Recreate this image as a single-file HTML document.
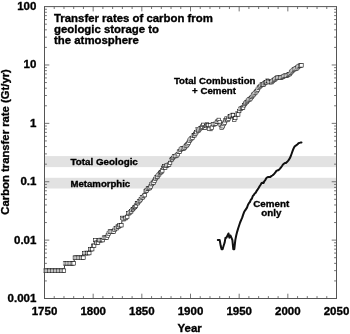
<!DOCTYPE html><html><head><meta charset="utf-8"><style>html,body{margin:0;padding:0;background:#fff}</style></head><body><svg width="350" height="334" viewBox="0 0 350 334" style="display:block"><rect width="350" height="334" fill="#fff"/><rect x="44.5" y="156.1" width="292.0" height="11" fill="#e2e2e2"/><rect x="44.5" y="177.8" width="292.0" height="10.7" fill="#e2e2e2"/><path d="M44.5 298.50h4.8M336.5 298.50h-4.8M44.5 280.93h2.4M336.5 280.93h-2.4M44.5 270.65h2.4M336.5 270.65h-2.4M44.5 263.35h2.4M336.5 263.35h-2.4M44.5 257.69h2.4M336.5 257.69h-2.4M44.5 253.07h2.4M336.5 253.07h-2.4M44.5 249.16h2.4M336.5 249.16h-2.4M44.5 245.78h2.4M336.5 245.78h-2.4M44.5 242.79h2.4M336.5 242.79h-2.4M44.5 240.12h4.8M336.5 240.12h-4.8M44.5 222.55h2.4M336.5 222.55h-2.4M44.5 212.27h2.4M336.5 212.27h-2.4M44.5 204.97h2.4M336.5 204.97h-2.4M44.5 199.31h2.4M336.5 199.31h-2.4M44.5 194.69h2.4M336.5 194.69h-2.4M44.5 190.78h2.4M336.5 190.78h-2.4M44.5 187.40h2.4M336.5 187.40h-2.4M44.5 184.41h2.4M336.5 184.41h-2.4M44.5 181.74h4.8M336.5 181.74h-4.8M44.5 164.17h2.4M336.5 164.17h-2.4M44.5 153.89h2.4M336.5 153.89h-2.4M44.5 146.59h2.4M336.5 146.59h-2.4M44.5 140.93h2.4M336.5 140.93h-2.4M44.5 136.31h2.4M336.5 136.31h-2.4M44.5 132.40h2.4M336.5 132.40h-2.4M44.5 129.02h2.4M336.5 129.02h-2.4M44.5 126.03h2.4M336.5 126.03h-2.4M44.5 123.36h4.8M336.5 123.36h-4.8M44.5 105.79h2.4M336.5 105.79h-2.4M44.5 95.51h2.4M336.5 95.51h-2.4M44.5 88.21h2.4M336.5 88.21h-2.4M44.5 82.55h2.4M336.5 82.55h-2.4M44.5 77.93h2.4M336.5 77.93h-2.4M44.5 74.02h2.4M336.5 74.02h-2.4M44.5 70.64h2.4M336.5 70.64h-2.4M44.5 67.65h2.4M336.5 67.65h-2.4M44.5 64.98h4.8M336.5 64.98h-4.8M44.5 47.41h2.4M336.5 47.41h-2.4M44.5 37.13h2.4M336.5 37.13h-2.4M44.5 29.83h2.4M336.5 29.83h-2.4M44.5 24.17h2.4M336.5 24.17h-2.4M44.5 19.55h2.4M336.5 19.55h-2.4M44.5 15.64h2.4M336.5 15.64h-2.4M44.5 12.26h2.4M336.5 12.26h-2.4M44.5 9.27h2.4M336.5 9.27h-2.4M44.50 298.5v-4.8M44.50 6.6v4.8M54.23 298.5v-2.4M54.23 6.6v2.4M63.97 298.5v-2.4M63.97 6.6v2.4M73.70 298.5v-2.4M73.70 6.6v2.4M83.43 298.5v-2.4M83.43 6.6v2.4M93.17 298.5v-4.8M93.17 6.6v4.8M102.90 298.5v-2.4M102.90 6.6v2.4M112.63 298.5v-2.4M112.63 6.6v2.4M122.37 298.5v-2.4M122.37 6.6v2.4M132.10 298.5v-2.4M132.10 6.6v2.4M141.83 298.5v-4.8M141.83 6.6v4.8M151.57 298.5v-2.4M151.57 6.6v2.4M161.30 298.5v-2.4M161.30 6.6v2.4M171.03 298.5v-2.4M171.03 6.6v2.4M180.77 298.5v-2.4M180.77 6.6v2.4M190.50 298.5v-4.8M190.50 6.6v4.8M200.23 298.5v-2.4M200.23 6.6v2.4M209.97 298.5v-2.4M209.97 6.6v2.4M219.70 298.5v-2.4M219.70 6.6v2.4M229.43 298.5v-2.4M229.43 6.6v2.4M239.17 298.5v-4.8M239.17 6.6v4.8M248.90 298.5v-2.4M248.90 6.6v2.4M258.63 298.5v-2.4M258.63 6.6v2.4M268.37 298.5v-2.4M268.37 6.6v2.4M278.10 298.5v-2.4M278.10 6.6v2.4M287.83 298.5v-4.8M287.83 6.6v4.8M297.57 298.5v-2.4M297.57 6.6v2.4M307.30 298.5v-2.4M307.30 6.6v2.4M317.03 298.5v-2.4M317.03 6.6v2.4M326.77 298.5v-2.4M326.77 6.6v2.4M336.50 298.5v-4.8M336.50 6.6v4.8" stroke="#666" stroke-width="0.9" fill="none"/><rect x="44.5" y="6.6" width="292.0" height="291.9" fill="none" stroke="#555" stroke-width="1"/><path d="M45.5 270.6L46.4 270.6L47.4 270.6L48.4 270.6L49.4 270.6L50.3 270.6L51.3 270.6L52.3 270.6L53.3 270.6L54.2 270.6L55.2 270.6L56.2 270.6L57.2 270.6L58.1 270.6L59.1 270.6L60.1 270.6L61.0 270.6L62.0 270.6L63.0 270.6L64.0 270.6L64.9 263.4L65.9 263.4L66.9 263.4L67.9 263.4L68.8 263.4L69.8 263.4L70.8 263.4L71.8 263.4L72.7 263.4L73.7 263.4L74.7 257.7L75.6 257.7L76.6 257.7L77.6 257.7L78.6 257.7L79.5 257.7L80.5 257.7L81.5 257.7L82.5 257.7L83.4 257.7L84.4 253.1L85.4 253.1L86.4 253.1L87.3 253.1L88.3 253.1L89.3 253.1L90.2 249.2L91.2 249.2L92.2 249.2L93.2 245.8L94.1 245.8L95.1 240.1L96.1 242.8L97.1 242.8L98.0 242.8L99.0 240.1L100.0 240.1L101.0 240.1L101.9 240.1L102.9 240.1L103.9 237.7L104.8 237.7L105.8 237.7L106.8 237.7L107.8 235.5L108.7 233.5L109.7 231.6L110.7 231.6L111.7 231.6L112.6 231.6L113.6 231.6L114.6 229.8L115.6 228.2L116.5 228.2L117.5 226.7L118.5 226.7L119.4 225.2L120.4 225.2L121.4 225.2L122.4 217.9L123.3 219.0L124.3 219.0L125.3 217.9L126.3 217.9L127.2 216.9L128.2 213.1L129.2 213.1L130.2 212.3L131.1 211.4L132.1 209.8L133.1 209.1L134.0 207.6L135.0 206.9L136.0 205.6L137.0 203.1L137.9 203.1L138.9 201.4L139.9 200.9L140.9 199.3L141.8 197.4L142.8 197.4L143.8 196.0L144.8 195.1L145.7 191.1L146.7 190.4L147.7 188.7L148.6 188.4L149.6 188.0L150.6 186.5L151.6 184.1L152.5 183.0L153.5 182.5L154.5 180.7L155.5 178.9L156.4 177.3L157.4 176.7L158.4 175.1L159.4 174.1L160.3 172.8L161.3 172.0L162.3 170.5L163.2 167.8L164.2 166.3L165.2 167.7L166.2 165.7L167.1 165.3L168.1 164.9L169.1 164.7L170.1 162.9L171.0 160.0L172.0 159.2L173.0 157.9L174.0 156.4L174.9 156.1L175.9 155.9L176.9 155.5L177.8 154.3L178.8 151.7L179.8 151.7L180.8 149.5L181.7 148.4L182.7 148.3L183.7 148.6L184.7 147.7L185.6 146.2L186.6 145.4L187.6 144.2L188.6 142.8L189.5 140.6L190.5 139.3L191.5 138.4L192.4 137.8L193.4 135.6L194.4 135.3L195.4 133.8L196.3 132.2L197.3 129.5L198.3 130.7L199.3 129.5L200.2 128.4L201.2 127.9L202.2 126.6L203.2 124.8L204.1 127.5L205.1 127.8L206.1 126.0L207.0 124.5L208.0 125.0L209.0 128.8L210.0 125.1L210.9 128.9L211.9 127.6L212.9 124.1L213.9 124.3L214.8 124.0L215.8 123.8L216.8 121.8L217.8 121.8L218.7 119.9L219.7 122.1L220.7 124.9L221.6 127.6L222.6 126.2L223.6 124.1L224.6 122.7L225.5 120.3L226.5 118.5L227.5 120.0L228.5 118.9L229.4 116.7L230.4 116.1L231.4 115.9L232.4 115.0L233.3 115.1L234.3 119.6L235.3 117.9L236.2 115.0L237.2 113.6L238.2 114.5L239.2 111.0L240.1 108.9L241.1 108.5L242.1 107.9L243.1 107.6L244.0 105.3L245.0 103.6L246.0 102.6L247.0 101.9L247.9 100.6L248.9 99.4L249.9 99.3L250.8 98.3L251.8 97.0L252.8 95.5L253.8 94.4L254.7 93.2L255.7 92.4L256.7 91.1L257.7 89.6L258.6 87.9L259.6 86.9L260.6 85.9L261.6 84.6L262.5 84.5L263.5 84.7L264.5 83.3L265.4 82.5L266.4 82.2L267.4 80.8L268.4 81.1L269.3 81.9L270.3 82.1L271.3 82.2L272.3 81.3L273.2 80.5L274.2 79.8L275.2 79.1L276.2 78.2L277.1 77.7L278.1 77.6L279.1 77.3L280.0 77.6L281.0 77.6L282.0 77.2L283.0 76.7L283.9 76.1L284.9 75.7L285.9 75.6L286.9 75.7L287.8 75.0L288.8 74.4L289.8 74.0L290.8 72.7L291.7 71.5L292.7 70.5L293.7 69.6L294.6 69.1L295.6 68.3L296.6 68.5L297.6 67.3L298.5 66.3L299.5 65.8L300.5 65.6L301.5 65.4" stroke="#000" stroke-width="0.8" fill="none"/><g fill="#fff" stroke="#111" stroke-width="0.6"><rect x="43.72" y="268.90" width="3.5" height="3.5" stroke="#8a8a8a" stroke-width="0.5"/><path d="M43.72 268.90h3.5M43.72 272.40h3.5"/><rect x="44.70" y="268.90" width="3.5" height="3.5"/><rect x="45.67" y="268.90" width="3.5" height="3.5" stroke="#8a8a8a" stroke-width="0.5"/><path d="M45.67 268.90h3.5M45.67 272.40h3.5"/><rect x="46.64" y="268.90" width="3.5" height="3.5" stroke="#8a8a8a" stroke-width="0.5"/><path d="M46.64 268.90h3.5M46.64 272.40h3.5"/><rect x="47.62" y="268.90" width="3.5" height="3.5"/><rect x="48.59" y="268.90" width="3.5" height="3.5" stroke="#8a8a8a" stroke-width="0.5"/><path d="M48.59 268.90h3.5M48.59 272.40h3.5"/><rect x="49.56" y="268.90" width="3.5" height="3.5" stroke="#8a8a8a" stroke-width="0.5"/><path d="M49.56 268.90h3.5M49.56 272.40h3.5"/><rect x="50.54" y="268.90" width="3.5" height="3.5"/><rect x="51.51" y="268.90" width="3.5" height="3.5" stroke="#8a8a8a" stroke-width="0.5"/><path d="M51.51 268.90h3.5M51.51 272.40h3.5"/><rect x="52.48" y="268.90" width="3.5" height="3.5" stroke="#8a8a8a" stroke-width="0.5"/><path d="M52.48 268.90h3.5M52.48 272.40h3.5"/><rect x="53.46" y="268.90" width="3.5" height="3.5"/><rect x="54.43" y="268.90" width="3.5" height="3.5" stroke="#8a8a8a" stroke-width="0.5"/><path d="M54.43 268.90h3.5M54.43 272.40h3.5"/><rect x="55.40" y="268.90" width="3.5" height="3.5" stroke="#8a8a8a" stroke-width="0.5"/><path d="M55.40 268.90h3.5M55.40 272.40h3.5"/><rect x="56.38" y="268.90" width="3.5" height="3.5"/><rect x="57.35" y="268.90" width="3.5" height="3.5" stroke="#8a8a8a" stroke-width="0.5"/><path d="M57.35 268.90h3.5M57.35 272.40h3.5"/><rect x="58.32" y="268.90" width="3.5" height="3.5" stroke="#8a8a8a" stroke-width="0.5"/><path d="M58.32 268.90h3.5M58.32 272.40h3.5"/><rect x="59.30" y="268.90" width="3.5" height="3.5"/><rect x="60.27" y="268.90" width="3.5" height="3.5" stroke="#8a8a8a" stroke-width="0.5"/><path d="M60.27 268.90h3.5M60.27 272.40h3.5"/><rect x="61.24" y="268.90" width="3.5" height="3.5" stroke="#8a8a8a" stroke-width="0.5"/><path d="M61.24 268.90h3.5M61.24 272.40h3.5"/><rect x="62.22" y="268.90" width="3.5" height="3.5"/><rect x="63.19" y="261.60" width="3.5" height="3.5" stroke="#8a8a8a" stroke-width="0.5"/><path d="M63.19 261.60h3.5M63.19 265.10h3.5"/><rect x="64.16" y="261.60" width="3.5" height="3.5" stroke="#8a8a8a" stroke-width="0.5"/><path d="M64.16 261.60h3.5M64.16 265.10h3.5"/><rect x="65.14" y="261.60" width="3.5" height="3.5"/><rect x="66.11" y="261.60" width="3.5" height="3.5" stroke="#8a8a8a" stroke-width="0.5"/><path d="M66.11 261.60h3.5M66.11 265.10h3.5"/><rect x="67.08" y="261.60" width="3.5" height="3.5" stroke="#8a8a8a" stroke-width="0.5"/><path d="M67.08 261.60h3.5M67.08 265.10h3.5"/><rect x="68.06" y="261.60" width="3.5" height="3.5"/><rect x="69.03" y="261.60" width="3.5" height="3.5" stroke="#8a8a8a" stroke-width="0.5"/><path d="M69.03 261.60h3.5M69.03 265.10h3.5"/><rect x="70.00" y="261.60" width="3.5" height="3.5" stroke="#8a8a8a" stroke-width="0.5"/><path d="M70.00 261.60h3.5M70.00 265.10h3.5"/><rect x="70.98" y="261.60" width="3.5" height="3.5"/><rect x="71.95" y="261.60" width="3.5" height="3.5"/><rect x="72.92" y="255.94" width="3.5" height="3.5" stroke="#8a8a8a" stroke-width="0.5"/><path d="M72.92 255.94h3.5M72.92 259.44h3.5"/><rect x="73.90" y="255.94" width="3.5" height="3.5"/><rect x="74.87" y="255.94" width="3.5" height="3.5" stroke="#8a8a8a" stroke-width="0.5"/><path d="M74.87 255.94h3.5M74.87 259.44h3.5"/><rect x="75.84" y="255.94" width="3.5" height="3.5" stroke="#8a8a8a" stroke-width="0.5"/><path d="M75.84 255.94h3.5M75.84 259.44h3.5"/><rect x="76.82" y="255.94" width="3.5" height="3.5"/><rect x="77.79" y="255.94" width="3.5" height="3.5" stroke="#8a8a8a" stroke-width="0.5"/><path d="M77.79 255.94h3.5M77.79 259.44h3.5"/><rect x="78.76" y="255.94" width="3.5" height="3.5" stroke="#8a8a8a" stroke-width="0.5"/><path d="M78.76 255.94h3.5M78.76 259.44h3.5"/><rect x="79.74" y="255.94" width="3.5" height="3.5"/><rect x="80.71" y="255.94" width="3.5" height="3.5" stroke="#8a8a8a" stroke-width="0.5"/><path d="M80.71 255.94h3.5M80.71 259.44h3.5"/><rect x="81.68" y="255.94" width="3.5" height="3.5"/><rect x="82.66" y="251.32" width="3.5" height="3.5"/><rect x="83.63" y="251.32" width="3.5" height="3.5" stroke="#8a8a8a" stroke-width="0.5"/><path d="M83.63 251.32h3.5M83.63 254.82h3.5"/><rect x="84.60" y="251.32" width="3.5" height="3.5" stroke="#8a8a8a" stroke-width="0.5"/><path d="M84.60 251.32h3.5M84.60 254.82h3.5"/><rect x="85.58" y="251.32" width="3.5" height="3.5"/><rect x="86.55" y="251.32" width="3.5" height="3.5" stroke="#8a8a8a" stroke-width="0.5"/><path d="M86.55 251.32h3.5M86.55 254.82h3.5"/><rect x="87.52" y="251.32" width="3.5" height="3.5"/><rect x="88.50" y="247.41" width="3.5" height="3.5"/><rect x="89.47" y="247.41" width="3.5" height="3.5" stroke="#8a8a8a" stroke-width="0.5"/><path d="M89.47 247.41h3.5M89.47 250.91h3.5"/><rect x="90.44" y="247.41" width="3.5" height="3.5"/><rect x="91.42" y="244.03" width="3.5" height="3.5"/><rect x="92.39" y="244.03" width="3.5" height="3.5"/><rect x="93.36" y="238.37" width="3.5" height="3.5"/><rect x="94.34" y="241.04" width="3.5" height="3.5"/><rect x="95.31" y="241.04" width="3.5" height="3.5" stroke="#8a8a8a" stroke-width="0.5"/><path d="M95.31 241.04h3.5M95.31 244.54h3.5"/><rect x="96.28" y="241.04" width="3.5" height="3.5"/><rect x="97.26" y="238.37" width="3.5" height="3.5"/><rect x="98.23" y="238.37" width="3.5" height="3.5" stroke="#8a8a8a" stroke-width="0.5"/><path d="M98.23 238.37h3.5M98.23 241.87h3.5"/><rect x="99.20" y="238.37" width="3.5" height="3.5" stroke="#8a8a8a" stroke-width="0.5"/><path d="M99.20 238.37h3.5M99.20 241.87h3.5"/><rect x="100.18" y="238.37" width="3.5" height="3.5"/><rect x="101.15" y="238.37" width="3.5" height="3.5"/><rect x="102.12" y="235.95" width="3.5" height="3.5" stroke="#8a8a8a" stroke-width="0.5"/><path d="M102.12 235.95h3.5M102.12 239.45h3.5"/><rect x="103.10" y="235.95" width="3.5" height="3.5"/><rect x="104.07" y="235.95" width="3.5" height="3.5" stroke="#8a8a8a" stroke-width="0.5"/><path d="M104.07 235.95h3.5M104.07 239.45h3.5"/><rect x="105.04" y="235.95" width="3.5" height="3.5"/><rect x="106.02" y="233.75" width="3.5" height="3.5"/><rect x="106.99" y="231.72" width="3.5" height="3.5"/><rect x="107.96" y="229.84" width="3.5" height="3.5" stroke="#8a8a8a" stroke-width="0.5"/><path d="M107.96 229.84h3.5M107.96 233.34h3.5"/><rect x="108.94" y="229.84" width="3.5" height="3.5"/><rect x="109.91" y="229.84" width="3.5" height="3.5" stroke="#8a8a8a" stroke-width="0.5"/><path d="M109.91 229.84h3.5M109.91 233.34h3.5"/><rect x="110.88" y="229.84" width="3.5" height="3.5" stroke="#8a8a8a" stroke-width="0.5"/><path d="M110.88 229.84h3.5M110.88 233.34h3.5"/><rect x="111.86" y="229.84" width="3.5" height="3.5"/><rect x="112.83" y="228.09" width="3.5" height="3.5"/><rect x="113.80" y="226.45" width="3.5" height="3.5" stroke="#8a8a8a" stroke-width="0.5"/><path d="M113.80 226.45h3.5M113.80 229.95h3.5"/><rect x="114.78" y="226.45" width="3.5" height="3.5"/><rect x="115.75" y="224.92" width="3.5" height="3.5" stroke="#8a8a8a" stroke-width="0.5"/><path d="M115.75 224.92h3.5M115.75 228.42h3.5"/><rect x="116.72" y="224.92" width="3.5" height="3.5"/><rect x="117.70" y="223.47" width="3.5" height="3.5"/><rect x="118.67" y="223.47" width="3.5" height="3.5" stroke="#8a8a8a" stroke-width="0.5"/><path d="M118.67 223.47h3.5M118.67 226.97h3.5"/><rect x="119.64" y="223.47" width="3.5" height="3.5"/><rect x="120.62" y="216.17" width="3.5" height="3.5"/><rect x="121.59" y="217.25" width="3.5" height="3.5" stroke="#8a8a8a" stroke-width="0.5"/><path d="M121.59 217.25h3.5M121.59 220.75h3.5"/><rect x="122.56" y="217.25" width="3.5" height="3.5" stroke="#8a8a8a" stroke-width="0.5"/><path d="M122.56 217.25h3.5M122.56 220.75h3.5"/><rect x="123.54" y="216.17" width="3.5" height="3.5"/><rect x="124.51" y="216.17" width="3.5" height="3.5" stroke="#8a8a8a" stroke-width="0.5"/><path d="M124.51 216.17h3.5M124.51 219.67h3.5"/><rect x="125.48" y="215.14" width="3.5" height="3.5"/><rect x="126.46" y="211.38" width="3.5" height="3.5"/><rect x="127.43" y="211.38" width="3.5" height="3.5" stroke="#8a8a8a" stroke-width="0.5"/><path d="M127.43 211.38h3.5M127.43 214.88h3.5"/><rect x="128.40" y="210.52" width="3.5" height="3.5" stroke="#8a8a8a" stroke-width="0.5"/><path d="M128.40 210.52h3.5M128.40 214.02h3.5"/><rect x="129.38" y="209.68" width="3.5" height="3.5"/><rect x="130.35" y="208.10" width="3.5" height="3.5" stroke="#8a8a8a" stroke-width="0.5"/><path d="M130.35 208.10h3.5M130.35 211.60h3.5"/><rect x="131.32" y="207.34" width="3.5" height="3.5"/><rect x="132.30" y="205.89" width="3.5" height="3.5"/><rect x="133.27" y="205.20" width="3.5" height="3.5"/><rect x="134.24" y="203.86" width="3.5" height="3.5"/><rect x="135.22" y="201.39" width="3.5" height="3.5"/><rect x="136.19" y="201.39" width="3.5" height="3.5"/><rect x="137.16" y="199.68" width="3.5" height="3.5" stroke="#8a8a8a" stroke-width="0.5"/><path d="M137.16 199.68h3.5M137.16 203.18h3.5"/><rect x="138.14" y="199.13" width="3.5" height="3.5"/><rect x="139.11" y="197.56" width="3.5" height="3.5"/><rect x="140.08" y="195.61" width="3.5" height="3.5" stroke="#8a8a8a" stroke-width="0.5"/><path d="M140.08 195.61h3.5M140.08 199.11h3.5"/><rect x="141.06" y="195.61" width="3.5" height="3.5"/><rect x="142.03" y="194.24" width="3.5" height="3.5" stroke="#8a8a8a" stroke-width="0.5"/><path d="M142.03 194.24h3.5M142.03 197.74h3.5"/><rect x="143.00" y="193.37" width="3.5" height="3.5"/><rect x="143.98" y="189.40" width="3.5" height="3.5"/><rect x="144.95" y="188.67" width="3.5" height="3.5"/><rect x="145.92" y="186.95" width="3.5" height="3.5" stroke="#8a8a8a" stroke-width="0.5"/><path d="M145.92 186.95h3.5M145.92 190.45h3.5"/><rect x="146.90" y="186.62" width="3.5" height="3.5"/><rect x="147.87" y="186.29" width="3.5" height="3.5"/><rect x="148.84" y="184.71" width="3.5" height="3.5"/><rect x="149.82" y="182.38" width="3.5" height="3.5"/><rect x="150.79" y="181.29" width="3.5" height="3.5" stroke="#8a8a8a" stroke-width="0.5"/><path d="M150.79 181.29h3.5M150.79 184.79h3.5"/><rect x="151.76" y="180.76" width="3.5" height="3.5"/><rect x="152.74" y="179.00" width="3.5" height="3.5"/><rect x="153.71" y="177.12" width="3.5" height="3.5"/><rect x="154.68" y="175.58" width="3.5" height="3.5" stroke="#8a8a8a" stroke-width="0.5"/><path d="M154.68 175.58h3.5M154.68 179.08h3.5"/><rect x="155.66" y="174.95" width="3.5" height="3.5"/><rect x="156.63" y="173.34" width="3.5" height="3.5" stroke="#8a8a8a" stroke-width="0.5"/><path d="M156.63 173.34h3.5M156.63 176.84h3.5"/><rect x="157.60" y="172.38" width="3.5" height="3.5" stroke="#8a8a8a" stroke-width="0.5"/><path d="M157.60 172.38h3.5M157.60 175.88h3.5"/><rect x="158.58" y="171.10" width="3.5" height="3.5"/><rect x="159.55" y="170.22" width="3.5" height="3.5"/><rect x="160.52" y="168.72" width="3.5" height="3.5"/><rect x="161.50" y="166.09" width="3.5" height="3.5"/><rect x="162.47" y="164.53" width="3.5" height="3.5"/><rect x="163.44" y="165.95" width="3.5" height="3.5"/><rect x="164.42" y="163.98" width="3.5" height="3.5"/><rect x="165.39" y="163.58" width="3.5" height="3.5" stroke="#8a8a8a" stroke-width="0.5"/><path d="M165.39 163.58h3.5M165.39 167.08h3.5"/><rect x="166.36" y="163.19" width="3.5" height="3.5" stroke="#8a8a8a" stroke-width="0.5"/><path d="M166.36 163.19h3.5M166.36 166.69h3.5"/><rect x="167.34" y="162.93" width="3.5" height="3.5"/><rect x="168.31" y="161.18" width="3.5" height="3.5"/><rect x="169.28" y="158.22" width="3.5" height="3.5" stroke="#8a8a8a" stroke-width="0.5"/><path d="M169.28 158.22h3.5M169.28 161.72h3.5"/><rect x="170.26" y="157.48" width="3.5" height="3.5"/><rect x="171.23" y="156.16" width="3.5" height="3.5"/><rect x="172.20" y="154.62" width="3.5" height="3.5" stroke="#8a8a8a" stroke-width="0.5"/><path d="M172.20 154.62h3.5M172.20 158.12h3.5"/><rect x="173.18" y="154.34" width="3.5" height="3.5"/><rect x="174.15" y="154.16" width="3.5" height="3.5" stroke="#8a8a8a" stroke-width="0.5"/><path d="M174.15 154.16h3.5M174.15 157.66h3.5"/><rect x="175.12" y="153.79" width="3.5" height="3.5" stroke="#8a8a8a" stroke-width="0.5"/><path d="M175.12 153.79h3.5M175.12 157.29h3.5"/><rect x="176.10" y="152.56" width="3.5" height="3.5"/><rect x="177.07" y="149.95" width="3.5" height="3.5" stroke="#8a8a8a" stroke-width="0.5"/><path d="M177.07 149.95h3.5M177.07 153.45h3.5"/><rect x="178.04" y="149.95" width="3.5" height="3.5"/><rect x="179.02" y="147.80" width="3.5" height="3.5"/><rect x="179.99" y="146.68" width="3.5" height="3.5" stroke="#8a8a8a" stroke-width="0.5"/><path d="M179.99 146.68h3.5M179.99 150.18h3.5"/><rect x="180.96" y="146.55" width="3.5" height="3.5" stroke="#8a8a8a" stroke-width="0.5"/><path d="M180.96 146.55h3.5M180.96 150.05h3.5"/><rect x="181.94" y="146.82" width="3.5" height="3.5"/><rect x="182.91" y="145.94" width="3.5" height="3.5"/><rect x="183.88" y="144.46" width="3.5" height="3.5" stroke="#8a8a8a" stroke-width="0.5"/><path d="M183.88 144.46h3.5M183.88 147.96h3.5"/><rect x="184.86" y="143.67" width="3.5" height="3.5"/><rect x="185.83" y="142.43" width="3.5" height="3.5"/><rect x="186.80" y="141.02" width="3.5" height="3.5"/><rect x="187.78" y="138.83" width="3.5" height="3.5"/><rect x="188.75" y="137.52" width="3.5" height="3.5" stroke="#8a8a8a" stroke-width="0.5"/><path d="M188.75 137.52h3.5M188.75 141.02h3.5"/><rect x="189.72" y="136.68" width="3.5" height="3.5" stroke="#8a8a8a" stroke-width="0.5"/><path d="M189.72 136.68h3.5M189.72 140.18h3.5"/><rect x="190.70" y="136.04" width="3.5" height="3.5"/><rect x="191.67" y="133.85" width="3.5" height="3.5" stroke="#8a8a8a" stroke-width="0.5"/><path d="M191.67 133.85h3.5M191.67 137.35h3.5"/><rect x="192.64" y="133.57" width="3.5" height="3.5"/><rect x="193.62" y="132.03" width="3.5" height="3.5"/><rect x="194.59" y="130.40" width="3.5" height="3.5"/><rect x="195.56" y="127.78" width="3.5" height="3.5" stroke="#8a8a8a" stroke-width="0.5"/><path d="M195.56 127.78h3.5M195.56 131.28h3.5"/><rect x="196.54" y="128.90" width="3.5" height="3.5"/><rect x="197.51" y="127.75" width="3.5" height="3.5" stroke="#8a8a8a" stroke-width="0.5"/><path d="M197.51 127.75h3.5M197.51 131.25h3.5"/><rect x="198.48" y="126.67" width="3.5" height="3.5" stroke="#8a8a8a" stroke-width="0.5"/><path d="M198.48 126.67h3.5M198.48 130.17h3.5"/><rect x="199.46" y="126.15" width="3.5" height="3.5"/><rect x="200.43" y="124.88" width="3.5" height="3.5"/><rect x="201.40" y="123.10" width="3.5" height="3.5"/><rect x="202.38" y="125.73" width="3.5" height="3.5"/><rect x="203.35" y="126.09" width="3.5" height="3.5"/><rect x="204.32" y="124.25" width="3.5" height="3.5"/><rect x="205.30" y="122.78" width="3.5" height="3.5"/><rect x="206.27" y="123.29" width="3.5" height="3.5"/><rect x="207.24" y="127.08" width="3.5" height="3.5"/><rect x="208.22" y="123.40" width="3.5" height="3.5"/><rect x="209.19" y="127.17" width="3.5" height="3.5" stroke="#8a8a8a" stroke-width="0.5"/><path d="M209.19 127.17h3.5M209.19 130.67h3.5"/><rect x="210.16" y="125.88" width="3.5" height="3.5"/><rect x="211.14" y="122.38" width="3.5" height="3.5"/><rect x="212.11" y="122.57" width="3.5" height="3.5" stroke="#8a8a8a" stroke-width="0.5"/><path d="M212.11 122.57h3.5M212.11 126.07h3.5"/><rect x="213.08" y="122.25" width="3.5" height="3.5" stroke="#8a8a8a" stroke-width="0.5"/><path d="M213.08 122.25h3.5M213.08 125.75h3.5"/><rect x="214.06" y="122.04" width="3.5" height="3.5"/><rect x="215.03" y="120.08" width="3.5" height="3.5" stroke="#8a8a8a" stroke-width="0.5"/><path d="M215.03 120.08h3.5M215.03 123.58h3.5"/><rect x="216.00" y="120.01" width="3.5" height="3.5"/><rect x="216.98" y="118.18" width="3.5" height="3.5"/><rect x="217.95" y="120.30" width="3.5" height="3.5"/><rect x="218.92" y="123.18" width="3.5" height="3.5"/><rect x="219.90" y="125.82" width="3.5" height="3.5"/><rect x="220.87" y="124.48" width="3.5" height="3.5"/><rect x="221.84" y="122.30" width="3.5" height="3.5"/><rect x="222.82" y="120.93" width="3.5" height="3.5"/><rect x="223.79" y="118.51" width="3.5" height="3.5"/><rect x="224.76" y="116.80" width="3.5" height="3.5"/><rect x="225.74" y="118.24" width="3.5" height="3.5"/><rect x="226.71" y="117.16" width="3.5" height="3.5"/><rect x="227.68" y="114.98" width="3.5" height="3.5" stroke="#8a8a8a" stroke-width="0.5"/><path d="M227.68 114.98h3.5M227.68 118.48h3.5"/><rect x="228.66" y="114.30" width="3.5" height="3.5"/><rect x="229.63" y="114.15" width="3.5" height="3.5" stroke="#8a8a8a" stroke-width="0.5"/><path d="M229.63 114.15h3.5M229.63 117.65h3.5"/><rect x="230.60" y="113.24" width="3.5" height="3.5" stroke="#8a8a8a" stroke-width="0.5"/><path d="M230.60 113.24h3.5M230.60 116.74h3.5"/><rect x="231.58" y="113.39" width="3.5" height="3.5"/><rect x="232.55" y="117.85" width="3.5" height="3.5"/><rect x="233.52" y="116.20" width="3.5" height="3.5"/><rect x="234.50" y="113.22" width="3.5" height="3.5"/><rect x="235.47" y="111.86" width="3.5" height="3.5" stroke="#8a8a8a" stroke-width="0.5"/><path d="M235.47 111.86h3.5M235.47 115.36h3.5"/><rect x="236.44" y="112.74" width="3.5" height="3.5"/><rect x="237.42" y="109.22" width="3.5" height="3.5"/><rect x="238.39" y="107.18" width="3.5" height="3.5" stroke="#8a8a8a" stroke-width="0.5"/><path d="M238.39 107.18h3.5M238.39 110.68h3.5"/><rect x="239.36" y="106.78" width="3.5" height="3.5" stroke="#8a8a8a" stroke-width="0.5"/><path d="M239.36 106.78h3.5M239.36 110.28h3.5"/><rect x="240.34" y="106.14" width="3.5" height="3.5"/><rect x="241.31" y="105.81" width="3.5" height="3.5"/><rect x="242.28" y="103.51" width="3.5" height="3.5"/><rect x="243.26" y="101.89" width="3.5" height="3.5"/><rect x="244.23" y="100.83" width="3.5" height="3.5" stroke="#8a8a8a" stroke-width="0.5"/><path d="M244.23 100.83h3.5M244.23 104.33h3.5"/><rect x="245.20" y="100.16" width="3.5" height="3.5"/><rect x="246.18" y="98.85" width="3.5" height="3.5"/><rect x="247.15" y="97.69" width="3.5" height="3.5" stroke="#8a8a8a" stroke-width="0.5"/><path d="M247.15 97.69h3.5M247.15 101.19h3.5"/><rect x="248.12" y="97.58" width="3.5" height="3.5" stroke="#8a8a8a" stroke-width="0.5"/><path d="M248.12 97.58h3.5M248.12 101.08h3.5"/><rect x="249.10" y="96.56" width="3.5" height="3.5"/><rect x="250.07" y="95.21" width="3.5" height="3.5"/><rect x="251.04" y="93.80" width="3.5" height="3.5" stroke="#8a8a8a" stroke-width="0.5"/><path d="M251.04 93.80h3.5M251.04 97.30h3.5"/><rect x="252.02" y="92.68" width="3.5" height="3.5"/><rect x="252.99" y="91.43" width="3.5" height="3.5" stroke="#8a8a8a" stroke-width="0.5"/><path d="M252.99 91.43h3.5M252.99 94.93h3.5"/><rect x="253.96" y="90.63" width="3.5" height="3.5" stroke="#8a8a8a" stroke-width="0.5"/><path d="M253.96 90.63h3.5M253.96 94.13h3.5"/><rect x="254.94" y="89.37" width="3.5" height="3.5"/><rect x="255.91" y="87.90" width="3.5" height="3.5"/><rect x="256.88" y="86.13" width="3.5" height="3.5" stroke="#8a8a8a" stroke-width="0.5"/><path d="M256.88 86.13h3.5M256.88 89.63h3.5"/><rect x="257.86" y="85.18" width="3.5" height="3.5"/><rect x="258.83" y="84.18" width="3.5" height="3.5"/><rect x="259.80" y="82.84" width="3.5" height="3.5" stroke="#8a8a8a" stroke-width="0.5"/><path d="M259.80 82.84h3.5M259.80 86.34h3.5"/><rect x="260.78" y="82.79" width="3.5" height="3.5"/><rect x="261.75" y="82.94" width="3.5" height="3.5"/><rect x="262.72" y="81.50" width="3.5" height="3.5" stroke="#8a8a8a" stroke-width="0.5"/><path d="M262.72 81.50h3.5M262.72 85.00h3.5"/><rect x="263.70" y="80.72" width="3.5" height="3.5"/><rect x="264.67" y="80.43" width="3.5" height="3.5"/><rect x="265.64" y="79.06" width="3.5" height="3.5" stroke="#8a8a8a" stroke-width="0.5"/><path d="M265.64 79.06h3.5M265.64 82.56h3.5"/><rect x="266.62" y="79.32" width="3.5" height="3.5"/><rect x="267.59" y="80.11" width="3.5" height="3.5" stroke="#8a8a8a" stroke-width="0.5"/><path d="M267.59 80.11h3.5M267.59 83.61h3.5"/><rect x="268.56" y="80.33" width="3.5" height="3.5" stroke="#8a8a8a" stroke-width="0.5"/><path d="M268.56 80.33h3.5M268.56 83.83h3.5"/><rect x="269.54" y="80.43" width="3.5" height="3.5"/><rect x="270.51" y="79.53" width="3.5" height="3.5" stroke="#8a8a8a" stroke-width="0.5"/><path d="M270.51 79.53h3.5M270.51 83.03h3.5"/><rect x="271.48" y="78.77" width="3.5" height="3.5" stroke="#8a8a8a" stroke-width="0.5"/><path d="M271.48 78.77h3.5M271.48 82.27h3.5"/><rect x="272.46" y="78.01" width="3.5" height="3.5"/><rect x="273.43" y="77.37" width="3.5" height="3.5" stroke="#8a8a8a" stroke-width="0.5"/><path d="M273.43 77.37h3.5M273.43 80.87h3.5"/><rect x="274.40" y="76.45" width="3.5" height="3.5" stroke="#8a8a8a" stroke-width="0.5"/><path d="M274.40 76.45h3.5M274.40 79.95h3.5"/><rect x="275.38" y="75.90" width="3.5" height="3.5"/><rect x="276.35" y="75.87" width="3.5" height="3.5" stroke="#8a8a8a" stroke-width="0.5"/><path d="M276.35 75.87h3.5M276.35 79.37h3.5"/><rect x="277.32" y="75.59" width="3.5" height="3.5" stroke="#8a8a8a" stroke-width="0.5"/><path d="M277.32 75.59h3.5M277.32 79.09h3.5"/><rect x="278.30" y="75.85" width="3.5" height="3.5"/><rect x="279.27" y="75.89" width="3.5" height="3.5" stroke="#8a8a8a" stroke-width="0.5"/><path d="M279.27 75.89h3.5M279.27 79.39h3.5"/><rect x="280.24" y="75.46" width="3.5" height="3.5" stroke="#8a8a8a" stroke-width="0.5"/><path d="M280.24 75.46h3.5M280.24 78.96h3.5"/><rect x="281.22" y="74.92" width="3.5" height="3.5"/><rect x="282.19" y="74.36" width="3.5" height="3.5" stroke="#8a8a8a" stroke-width="0.5"/><path d="M282.19 74.36h3.5M282.19 77.86h3.5"/><rect x="283.16" y="73.93" width="3.5" height="3.5" stroke="#8a8a8a" stroke-width="0.5"/><path d="M283.16 73.93h3.5M283.16 77.43h3.5"/><rect x="284.14" y="73.86" width="3.5" height="3.5"/><rect x="285.11" y="73.92" width="3.5" height="3.5" stroke="#8a8a8a" stroke-width="0.5"/><path d="M285.11 73.92h3.5M285.11 77.42h3.5"/><rect x="286.08" y="73.26" width="3.5" height="3.5" stroke="#8a8a8a" stroke-width="0.5"/><path d="M286.08 73.26h3.5M286.08 76.76h3.5"/><rect x="287.06" y="72.66" width="3.5" height="3.5"/><rect x="288.03" y="72.29" width="3.5" height="3.5"/><rect x="289.00" y="70.95" width="3.5" height="3.5" stroke="#8a8a8a" stroke-width="0.5"/><path d="M289.00 70.95h3.5M289.00 74.45h3.5"/><rect x="289.98" y="69.72" width="3.5" height="3.5"/><rect x="290.95" y="68.75" width="3.5" height="3.5" stroke="#8a8a8a" stroke-width="0.5"/><path d="M290.95 68.75h3.5M290.95 72.25h3.5"/><rect x="291.92" y="67.84" width="3.5" height="3.5" stroke="#8a8a8a" stroke-width="0.5"/><path d="M291.92 67.84h3.5M291.92 71.34h3.5"/><rect x="292.90" y="67.34" width="3.5" height="3.5"/><rect x="293.87" y="66.54" width="3.5" height="3.5" stroke="#8a8a8a" stroke-width="0.5"/><path d="M293.87 66.54h3.5M293.87 70.04h3.5"/><rect x="294.84" y="66.77" width="3.5" height="3.5" stroke="#8a8a8a" stroke-width="0.5"/><path d="M294.84 66.77h3.5M294.84 70.27h3.5"/><rect x="295.82" y="65.54" width="3.5" height="3.5"/><rect x="296.79" y="64.52" width="3.5" height="3.5" stroke="#8a8a8a" stroke-width="0.5"/><path d="M296.79 64.52h3.5M296.79 68.02h3.5"/><rect x="297.76" y="64.07" width="3.5" height="3.5" stroke="#8a8a8a" stroke-width="0.5"/><path d="M297.76 64.07h3.5M297.76 67.57h3.5"/><rect x="298.74" y="63.81" width="3.5" height="3.5"/><rect x="299.71" y="63.60" width="3.5" height="3.5"/></g><path d="M217.8 240.1L218.7 240.1L219.7 240.1L220.7 245.8L221.6 249.2L222.6 249.2L223.6 245.8L224.6 242.8L225.5 237.7L226.5 237.7L227.5 235.5L228.5 233.5L229.4 237.7L230.4 235.5L231.4 237.7L232.4 240.1L233.3 249.2L234.3 249.2L235.3 240.1L236.2 235.5L237.2 231.6L238.2 228.2L239.2 225.2L240.1 222.5L241.1 220.1L242.1 217.9L243.1 214.9L244.0 212.3L245.0 210.6L246.0 209.1L247.0 207.6L247.9 205.0L248.9 203.1L249.9 202.0L250.8 199.8L251.8 198.8L252.8 196.0L253.8 195.1L254.7 193.5L255.7 192.7L256.7 190.8L257.7 189.4L258.6 188.0L259.6 186.2L260.6 184.7L261.6 183.0L262.5 182.8L263.5 183.0L264.5 181.0L265.4 179.8L266.4 178.0L267.4 177.3L268.4 177.1L269.3 176.9L270.3 176.9L271.3 176.1L272.3 175.5L273.2 174.9L274.2 173.8L275.2 172.7L276.2 171.1L277.1 170.5L278.1 170.3L279.1 169.7L280.0 168.7L281.0 167.4L282.0 166.0L283.0 164.5L283.9 163.8L284.9 163.0L285.9 163.0L286.9 162.1L287.8 161.1L288.8 159.9L289.8 158.3L290.8 156.0L291.7 153.5L292.7 150.7L293.7 148.2L294.6 146.6L295.6 145.7L296.6 145.1L297.6 144.2L298.5 143.3L299.5 142.9L300.5 142.6L301.5 142.4" stroke="#111" stroke-width="2" fill="none" stroke-linejoin="round" stroke-linecap="round"/><g font-family="'Liberation Sans', Arial, sans-serif" font-weight="bold" fill="#000" stroke="#000" stroke-width="0.35"><g font-size="11.5" text-anchor="end"><text x="36.4" y="10.0">100</text><text x="36.4" y="68.4">10</text><text x="36.4" y="126.8">1</text><text x="36.4" y="185.1">0.1</text><text x="36.4" y="243.5">0.01</text><text x="36.4" y="301.9">0.001</text></g><g font-size="11.5" text-anchor="middle"><text x="44.5" y="314.6">1750</text><text x="93.2" y="314.6">1800</text><text x="141.8" y="314.6">1850</text><text x="190.5" y="314.6">1900</text><text x="239.2" y="314.6">1950</text><text x="287.8" y="314.6">2000</text><text x="336.5" y="314.6">2050</text></g><text x="189.7" y="332" font-size="11.5" text-anchor="middle">Year</text><text transform="translate(8.7,141.9) scale(0.9,1) rotate(-90)" font-size="11.3" text-anchor="middle">Carbon transfer rate (Gt/yr)</text><g font-size="11.4"><text x="54" y="22.2">Transfer rates of carbon from</text><text x="54" y="33.2">geologic storage to</text><text x="54" y="44.2">the atmosphere</text></g><g font-size="9.7" text-anchor="middle"><text x="214.7" y="83.5">Total Combustion</text><text x="214" y="93.5">+ Cement</text><text x="271.2" y="206.6" font-size="9.8">Cement</text><text x="271.3" y="215.8" font-size="9.8">only</text></g><g font-size="9.8"><text x="70.5" y="165.2">Total Geologic</text><text x="70.5" y="186.8" font-size="9.6">Metamorphic</text></g></g></svg></body></html>
